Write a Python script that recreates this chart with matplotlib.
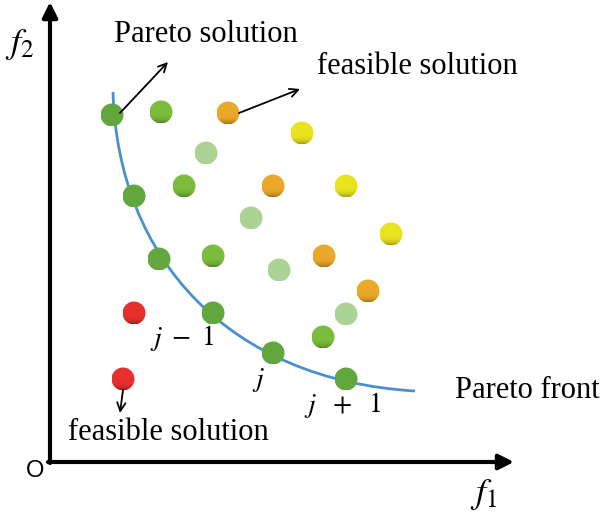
import numpy as np
import matplotlib.pyplot as plt
from matplotlib.patches import Circle, PathPatch
from matplotlib.path import Path

plt.rcParams['mathtext.fontset'] = 'stix'
serif = 'Liberation Serif'

# ball centres (pixel units, y down)
pareto_x = [112, 134, 159, 213, 273, 346]
pareto_y = [115, 196, 259, 313, 353, 379]

green_x = [161, 184, 213, 323]
green_y = [112, 186, 256, 337]

pale_x = [206, 251, 279, 346]
pale_y = [153, 218, 270, 314]

orange_x = [228, 273, 324, 368]
orange_y = [113, 186, 256, 291]

yellow_x = [302, 346, 391]
yellow_y = [133, 186, 234]

red_x = [134, 123]
red_y = [313, 379]

# pareto front: start, two bezier handles, end
front_x = [113, 118, 230, 415]
front_y = [92, 260, 380, 391]

R = 11.5

fig = plt.figure(figsize=(6.05, 5.16), dpi=100)
ax = fig.add_axes([0, 0, 1, 1])
ax.set_xlim(0, 605)
ax.set_ylim(516, 0)
ax.axis('off')

# axes arrows
ax.annotate('', xy=(50, 2), xytext=(50, 463),
            arrowprops=dict(arrowstyle='-|>,head_length=0.9,head_width=0.45', lw=3, color='black', shrinkA=0, shrinkB=0))
ax.annotate('', xy=(514, 462), xytext=(48, 462),
            arrowprops=dict(arrowstyle='-|>,head_length=0.9,head_width=0.45', lw=3, color='black', shrinkA=0, shrinkB=0))

front = Path(list(zip(front_x, front_y)), [Path.MOVETO, Path.CURVE4, Path.CURVE4, Path.CURVE4])
ax.add_patch(PathPatch(front, fc='none', ec='#4a90d0', lw=2, zorder=2))

yy, xx = np.mgrid[-1:1:40j, -1:1:40j]


def ball(x, y, color, shade=True):
    c = np.array(plt.matplotlib.colors.to_rgb(color))
    if shade:
        # darker towards the bottom edge, like a lit sphere
        t = np.clip(yy, 0, 1) ** 3
        img = c[None, None, :] * (1 - 0.3 * t[..., None])
        img = np.clip(img, 0, 1)
    else:
        img = np.ones((40, 40, 3)) * c
    im = ax.imshow(img, extent=(x - R, x + R, y + R, y - R), zorder=3, interpolation='bilinear')
    patch = Circle((x, y), R, transform=ax.transData, fc='none', ec='none')
    ax.add_patch(patch)
    im.set_clip_path(patch)


for x, y in zip(pareto_x, pareto_y):
    ball(x, y, '#62a73e', shade=False)
for x, y in zip(green_x, green_y):
    ball(x, y, '#7cbd3c')
for x, y in zip(pale_x, pale_y):
    ball(x, y, '#abd395', shade=False)
for x, y in zip(orange_x, orange_y):
    ball(x, y, '#eaa92a')
for x, y in zip(yellow_x, yellow_y):
    ball(x, y, '#e9e41e')
for x, y in zip(red_x, red_y):
    ball(x, y, '#e8302e')

ax.set_xlim(0, 605)
ax.set_ylim(516, 0)

# pointer arrows
arr = dict(arrowstyle='->,head_length=0.6,head_width=0.3', lw=1.3, color='black', shrinkA=0, shrinkB=0)
ax.annotate('', xy=(168, 62), xytext=(120, 113), arrowprops=arr)
ax.annotate('', xy=(300, 89), xytext=(239, 113), arrowprops=arr)
ax.annotate('', xy=(120, 413), xytext=(123, 390), arrowprops=arr)

fs = 22
ax.text(114, 35, 'Pareto solution', fontsize=fs, family=serif, va='center', ha='left')
ax.text(317, 67, 'feasible solution', fontsize=fs, family=serif, va='center', ha='left')
ax.text(455, 390, 'Pareto front', fontsize=fs, family=serif, va='center', ha='left')
ax.text(68, 432, 'feasible solution', fontsize=fs, family=serif, va='center', ha='left')

ax.text(150, 338, r'$j\ -\ 1$', fontsize=20, va='center', ha='left')
ax.text(259, 380, r'$j$', fontsize=20, va='center', ha='center')
ax.text(304, 405, r'$j\ \ +\ \ 1$', fontsize=20, va='center', ha='left')

ax.text(20, 45, r'$f_2$', fontsize=26, va='center', ha='center')
ax.text(484, 495, r'$f_1$', fontsize=26, va='center', ha='center')
ax.text(35, 471, 'O', fontsize=17, family='Liberation Sans', va='center', ha='center')

fig.savefig('out.png', dpi=100)
